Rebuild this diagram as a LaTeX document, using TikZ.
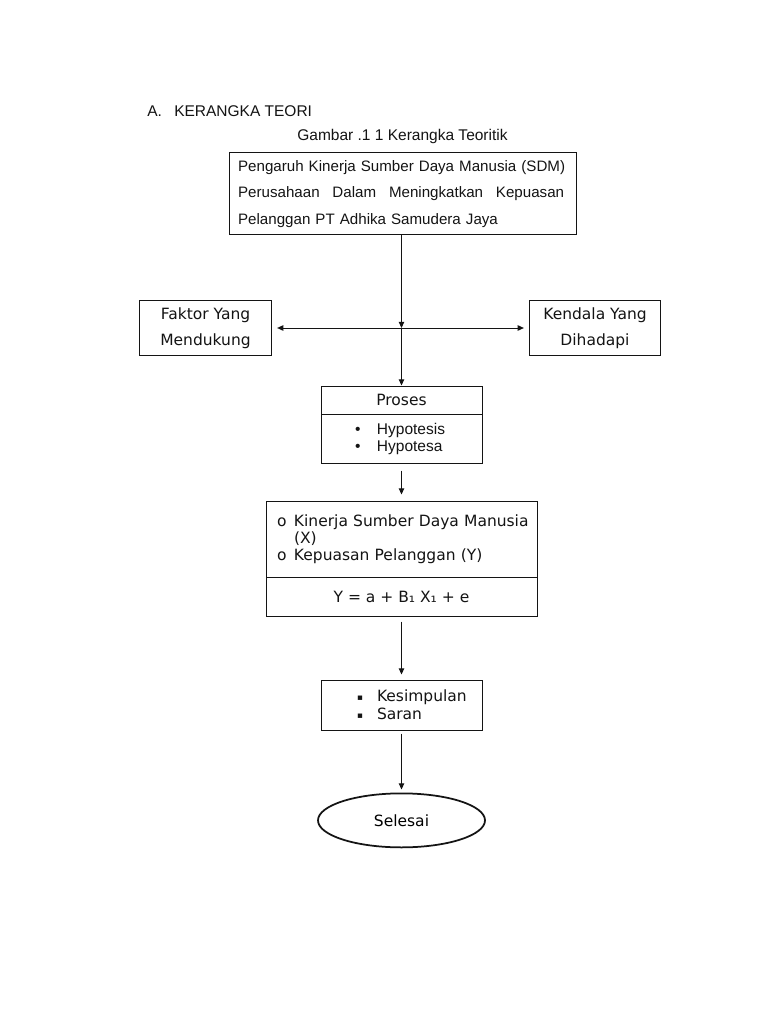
\documentclass[tikz,border=0pt]{standalone}
\usepackage{fontspec}
\setmainfont{Liberation Sans}
\newfontfamily\dejavu{DejaVu Sans}
\usepackage{tikz}
\usetikzlibrary{
  arrows.meta,
  positioning,
  shapes.geometric
}
\definecolor{ink}{HTML}{141414}
\definecolor{paper}{HTML}{FFFFFF}
\newcommand{\sqbullet}{{\fontsize{7}{7}\selectfont\raisebox{1pt}{▪}}}
\tikzset{
  link/.style={
    -{Triangle[length=5pt,width=4.4pt]},
    line width=0.8pt,
    draw=ink
  },
  plainbox/.style={
    draw=ink,
    line width=0.8pt,
    text=ink,
    inner sep=0pt,
    align=center
  },
  arfont/.style={
    font=\fontsize{12.4}{14}\selectfont,
    text=ink,
    inner sep=0pt
  },
  sidebox/.style={
    plainbox,
    minimum width=105pt,
    minimum height=44pt,
    font=\dejavu\fontsize{12.4}{20.8}\selectfont
  },
  headcell/.style={
    plainbox,
    minimum width=128.8pt,
    font=\dejavu\fontsize{12.4}{14}\selectfont
  },
  listcell/.style={
    plainbox,
    align=left,
    text width=#1,
    minimum width=#1
  },
  endoval/.style={
    ellipse,
    draw=ink,
    line width=1.4pt,
    minimum width=133.6pt,
    minimum height=43.2pt,
    font=\dejavu\fontsize{12.4}{14}\selectfont
  }
}

\begin{document}
\begin{tikzpicture}[x=0.8pt, y=-0.8pt]
  \path[use as bounding box, fill=paper] (0,0) rectangle (768,1024);

  \node[arfont, anchor=west] (section) at (147,111)
    {\makebox[21.6pt][l]{A.}KERANGKA TEORI};
  \node[arfont] (caption) at (402.5,136) {Gambar .1 1 Kerangka Teoritik};

  \node[plainbox, align=left, text width=263pt, inner xsep=7.2pt,
    minimum width=277.6pt, minimum height=65.6pt,
    font=\fontsize{12.1}{21.2}\selectfont]
    (top) at (402.5,194)
    {\mbox{Pengaruh Kinerja Sumber Daya Manusia (SDM)}\\
     \makebox[260.8pt][l]{Perusahaan\hfill Dalam\hfill Meningkatkan\hfill Kepuasan}\\
     Pelanggan PT Adhika Samudera Jaya};

  \coordinate (hub) at (401.5,328);
  \node[sidebox] (faktor) at (205.5,328) {Faktor Yang\\Mendukung};
  \node[sidebox] (kendala) at (595,328) {Kendala Yang\\Dihadapi};

  \node[headcell, minimum height=22.4pt, below=120pt of top, xshift=-0.8pt]
    (prohead) {Proses};
  \node[listcell=128.8pt, minimum height=39.2pt,
    font=\fontsize{12.4}{13.6}\selectfont, below=-0.8pt of prohead]
    (probody)
    {\hspace*{27.2pt}\makebox[17.6pt][l]{\textbullet}Hypotesis\\
     \hspace*{27.2pt}\makebox[17.6pt][l]{\textbullet}Hypotesa};

  \node[listcell=216.8pt, minimum height=60.8pt,
    font=\dejavu\fontsize{12.4}{13.6}\selectfont, below=29.6pt of probody]
    (xbody)
    {\hspace*{8.8pt}\makebox[13.6pt][l]{o}Kinerja Sumber Daya Manusia\\
     \hspace*{22.4pt}(X)\\
     \hspace*{8.8pt}\makebox[13.6pt][l]{o}Kepuasan Pelanggan (Y)};
  \node[plainbox, minimum width=216.8pt, minimum height=31.2pt,
    font=\dejavu\fontsize{12.4}{14}\selectfont, below=-0.8pt of xbody]
    (xeq) {Y = a + B₁ X₁ + e};

  \node[listcell=128.8pt, minimum height=40pt,
    font=\dejavu\fontsize{12.4}{14.4}\selectfont, below=50.4pt of xeq]
    (kes)
    {\hspace*{28.8pt}\makebox[16pt][l]{\sqbullet}Kesimpulan\\
     \hspace*{28.8pt}\makebox[16pt][l]{\sqbullet}Saran};

  \node[endoval, below=49.6pt of kes] (selesai) {Selesai};

  \draw[link] (top.south -| hub) -- (hub);
  \draw[link] (hub) -- (prohead);
  \draw[link, shorten >=4.4pt] (hub) -- (faktor.east);
  \draw[link, shorten >=4pt] (hub) -- (kendala.west);
  \draw[link, shorten <=5.6pt, shorten >=4.8pt] (probody) -- (xbody);
  \draw[link, shorten <=4pt, shorten >=4pt] (xeq) -- (kes);
  \draw[link, shorten <=2.4pt, shorten >=2.4pt] (kes) -- (selesai);
\end{tikzpicture}
\end{document}
